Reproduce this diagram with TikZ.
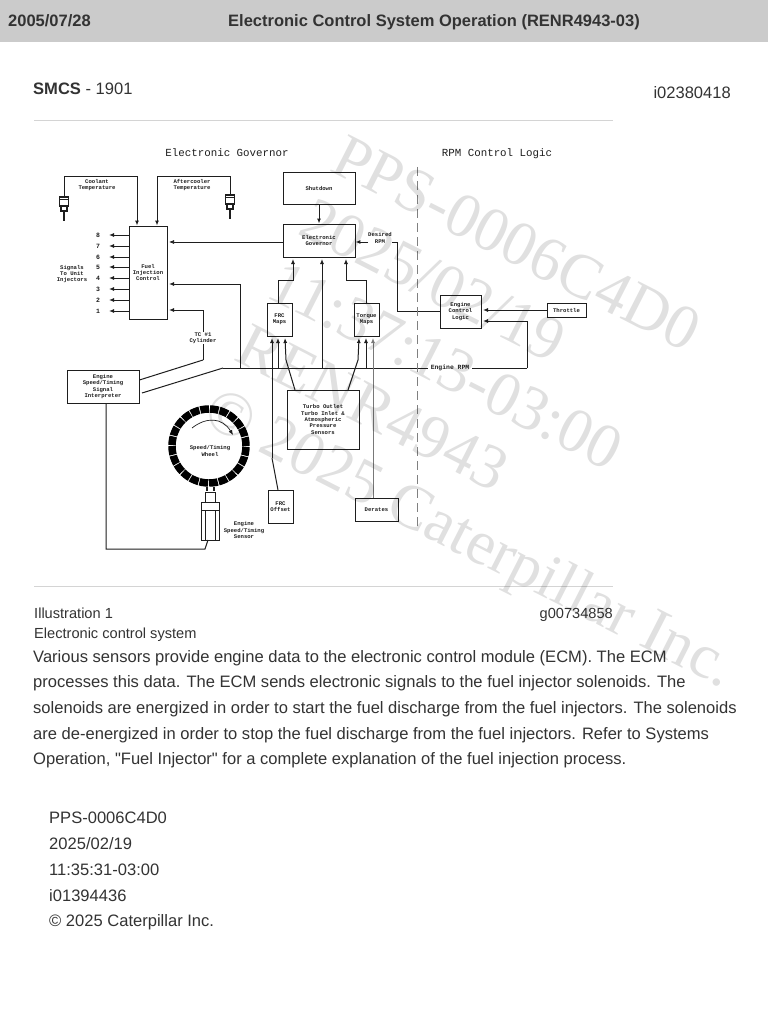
\documentclass[tikz,border=0pt]{standalone}
\usepackage{fontspec}
\setmainfont{Liberation Sans}
\newfontfamily\wmfont{Liberation Serif}
\newfontfamily\dgfont{Liberation Mono}
\newfontfamily\qtfont{Liberation Sans}
\usetikzlibrary{arrows.meta,calc}
\definecolor{band}{HTML}{CBCBCB}
\definecolor{ink}{HTML}{333333}
\definecolor{rulec}{HTML}{D4D4D4}
\definecolor{ln}{HTML}{1E1E1E}
\tikzset{
  box/.style={draw=ln,line width=.9pt,inner sep=0pt,align=center,font=\dgfont\bfseries\fontsize{5.6}{6.4}\selectfont,text=ln},
  lab/.style={inner sep=0pt,align=center,font=\dgfont\bfseries\fontsize{5.6}{6.4}\selectfont,text=ln},
  ttl/.style={inner sep=0pt,font=\dgfont\fontsize{10.8}{12}\selectfont,text=ln},
  wire/.style={draw=ln,line width=1pt},
  arr/.style={wire,-{Latex[length=5pt,width=4pt]}},
  page/.style={inner sep=0pt,anchor=base west,text=ink,font=\fontsize{16.55}{19}\selectfont},
  small/.style={page,font=\fontsize{14.6}{17}\selectfont},
  head/.style={page,font=\bfseries\fontsize{16.5}{18}\selectfont},
  wm/.style={inner sep=0pt,anchor=base west,rotate=-27,text=black,opacity=.12,font=\wmfont\fontsize{63}{70}\selectfont},
}
\begin{document}
\begin{tikzpicture}[x=1pt,y=-1pt]
\useasboundingbox (0,0) rectangle (768,1024);
\fill[white] (0,0) rectangle (768,1024);
\fill[band] (0,0) rectangle (768,42);
\node[head] (hd) at (8,27) {2005/07/28};
\node[head,anchor=base] (ht) at (434,27) {Electronic Control System Operation (RENR4943-03)};
\node[page] (sm) at (33,95) {\textbf{SMCS} - 1901};
\node[page,anchor=base east] (id) at (731,99) {i02380418};
\draw[rulec,line width=1pt] (34,121) -- (613,121);
\draw[rulec,line width=1pt] (34,586) -- (613,586);
% titles
\node[ttl] (t1) at (227,153) {Electronic Governor};
\node[ttl] (t2) at (497,154) {RPM Control Logic};
% boxes
\node[box,minimum width=38pt,minimum height=93pt] (fuel) at (148,272.5) {Fuel\\Injection\\Control};
\node[box,minimum width=72pt,minimum height=32pt] (shut) at (319,188) {Shutdown};
\node[box,minimum width=72pt,minimum height=33pt] (gov) at (319,240.5) {Electronic\\Governor};
\node[box,minimum width=25pt,minimum height=33pt] (frcm) at (279.5,319.5) {FRC\\Maps};
\node[box,minimum width=25pt,minimum height=33pt] (torq) at (366.5,319.5) {Torque\\Maps};
\node[box,minimum width=41pt,minimum height=33pt] (ecl) at (460.5,311.5) {Engine\\Control\\Logic};
\node[box,minimum width=39pt,minimum height=14pt] (thr) at (566.5,310) {Throttle};
\node[box,minimum width=72pt,minimum height=33pt] (esp) at (103,386.5) {Engine\\Speed/Timing\\Signal\\Interpreter};
\node[box,minimum width=72pt,minimum height=59pt] (turbo) at (323,419.5) {Turbo Outlet\\Turbo Inlet \&\\Atmospheric\\Pressure\\Sensors};
\node[box,minimum width=25pt,minimum height=33pt] (frco) at (280.5,506.5) {FRC\\Offset};
\node[box,minimum width=43pt,minimum height=23pt] (der) at (376.5,509.5) {Derates};
% labels
\node[lab] (lc) at (97,185) {Coolant\\Temperature};
\node[lab] (la) at (192,185) {Aftercooler\\Temperature};
\node[lab] (ls) at (72,274) {Signals\\To Unit\\Injectors};
\node[lab] (ltc) at (203,338) {TC \#1\\Cylinder};
\node[lab] (ldr) at (380,238) {Desired\\RPM};
\node[lab] (lwh) at (210,451) {Speed/Timing\\Wheel};
\node[lab] (lse) at (244,530) {Engine\\Speed/Timing\\Sensor};
% signal outputs
\foreach \n/\y in {8/235,7/246,6/257,5/267,4/278,3/289,2/300,1/311}{
  \node[lab,font=\dgfont\bfseries\fontsize{6.5}{7}\selectfont] (n\n) at (98,\y) {\n};
  \coordinate (o\n) at (109,\y);
  \draw[arr] (o\n -| fuel.west) -- (o\n);
}
% temperature sensors
\foreach \x/\y in {64/197,230/195}{
  \draw[ln,line width=1.1pt,fill=white] (\x-4.5,\y) rectangle (\x+4.5,\y+9);
  \draw[ln,line width=1pt] (\x-4.5,\y+3) -- (\x+4.5,\y+3);
  \draw[ln,line width=1.5pt] (\x-3,\y+9) -- (\x-3,\y+14) -- (\x+3,\y+14) -- (\x+3,\y+9);
  \draw[ln,line width=1.3pt] (\x,\y+14) -- (\x,\y+24);
}
\coordinate (sl) at (64,197);
\coordinate (sr) at (230,195);
\coordinate (cc) at (137,177);
\coordinate (ac) at (157,177);
\draw[arr] (sl) |- (cc) -- (cc |- fuel.north);
\draw[arr] (sr) |- (ac) -- (ac |- fuel.north);
% governor and logic
\draw[arr] (shut.south) -- (gov.north);
\coordinate (g1) at (169,242);
\draw[arr,line width=.7pt] (gov.west |- g1) -- (g1);
% engine rpm bus
\coordinate (b0) at (223,368);
\coordinate (b1) at (527,368);
\node[lab,fill=white,inner xsep=3pt,inner ysep=1pt,font=\dgfont\bfseries\fontsize{6.4}{7}\selectfont] (rpm) at (450,368) {Engine RPM};
\draw[wire] (b0) -- (rpm.west);
\draw[wire] (rpm.east) -- (b1);
\coordinate (e1) at (481,321);
\draw[arr] (b1) |- ($(e1)+(2,0)$);
\draw[wire] (142,393) -- (b0);
\coordinate (tcb) at (203,360);
\draw[wire] (esp.east |- 0,380) -- (tcb);
\coordinate (tcu) at (169,310);
\draw[wire] (tcb) -- (ltc.south -| tcb);
\draw[arr] (ltc.north -| tcb) |- (tcu);
\coordinate (f2) at (240,284);
\draw[arr] (f2 |- b0) -- (f2) -- (169,284);
% into governor
\draw[arr] (322,368) -- (322,259);
\coordinate (g2) at (293,280);
\draw[arr] (278,303) |- (g2) -- (293,259);
\coordinate (g3) at (346,280);
\draw[arr] (366,303) |- (g3) -- (346,259);
% desired rpm
\coordinate (d1) at (397,242);
\coordinate (d2) at (392,242);
\coordinate (d3) at (368,242);
\draw[arr] (d3) -- (gov.east |- d3);
\draw[wire] (d2) -- (d1) |- (ecl.west);
\draw[arr] (thr.west) -- (483,310);
% map inputs
\draw[arr] (272,458) -- (272,338);
\draw[wire] (278,490) -- (272,458);
\draw[arr] (278,368) -- (278,338);
\draw[arr] (295,390) -- (286,360) -- (285,338);
\draw[arr] (348,390) -- (358,360) -- (359,338);
\draw[arr] (366,368) -- (366,338);
\draw[arr,draw=ln!60] (373,498) -- (373,338);
% engine sensor and wheel
\draw[black,line width=7.5pt,dash pattern=on 8.7pt off .99pt] (209,446) circle[radius=37pt];
\draw[arr,line width=.7pt] (192,428) .. controls (206,417) and (222,417) .. (233,435);
\node[draw=ln,line width=1pt,minimum width=10pt,minimum height=10pt,inner sep=0pt,fill=white] (sn) at (210.5,497) {};
\draw[ln,line width=2pt] (207,487) -- (207,491) (214,487) -- (214,491);
\node[draw=ln,line width=1pt,minimum width=18pt,minimum height=38pt,inner sep=0pt] (sb) at (210,521) {};
\draw[ln,line width=.8pt] (201,510) -- (219,510) (205,510) -- (205,540) (215,510) -- (215,540);
\draw[wire] (106,403) -- (106,549) -- (205,549) -- (208,540);
% dashed divider
\coordinate (dv0) at (417,167);
\coordinate (dv1) at (417,527);
\draw[draw=black!50,line width=1pt,dash pattern=on 9pt off 5pt] (dv0) -- (dv1);
% caption and page text
\node[small] (ca) at (34,618) {Illustration 1};
\node[small] (cb) at (34,638) {Electronic control system};
\node[small,anchor=base east] (cg) at (613,618) {g00734858};
\node[page] (b1t) at (33,662) {Various sensors provide engine data to the electronic control module (ECM). The ECM};
\node[page] (b2t) at (33,687) {processes this data. The ECM sends electronic signals to the fuel injector solenoids. The};
\node[page] (b3t) at (33,713) {solenoids are energized in order to start the fuel discharge from the fuel injectors. The solenoids};
\node[page] (b4t) at (33,739) {are de-energized in order to stop the fuel discharge from the fuel injectors. Refer to Systems};
\node[page] (b5t) at (33,764) {Operation, {\qtfont "}Fuel Injector{\qtfont "} for a complete explanation of the fuel injection process.};
\node[page] (f1) at (49,823) {PPS-0006C4D0};
\node[page] (f2n) at (49,849) {2025/02/19};
\node[page] (f3) at (49,875) {11:35:31-03:00};
\node[page] (f4) at (49,901) {i01394436};
\node[page] (f5) at (49,926) {© 2025 Caterpillar Inc.};
% watermark
\node[wm] (w1) at (328,170) {PPS-0006C4D0};
\node[wm] (w2) at (296,233) {2025/02/19};
\node[wm] (w3) at (264,296) {11:37:13-03:00};
\node[wm] (w4) at (232,359) {RENR4943};
\node[wm] (w5) at (200,422) {© 2025 Caterpillar Inc.};
\end{tikzpicture}
\end{document}
